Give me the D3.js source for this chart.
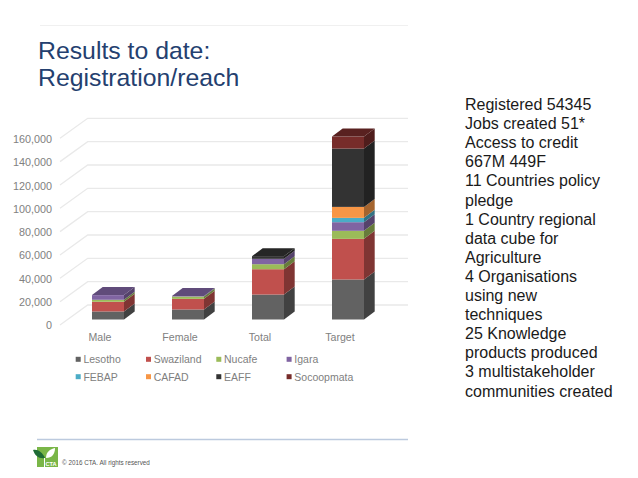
<!DOCTYPE html>
<html>
<head>
<meta charset="utf-8">
<script src="https://cdn.jsdelivr.net/npm/d3@7"></script>
<style>
  html, body { margin: 0; padding: 0; background: #fff; }
  svg { display: block; }
  text { font-family: "Liberation Sans", Arial, sans-serif; }
</style>
</head>
<body>
<svg id="slide" width="638" height="478"></svg>
<script>
var categories = ["Male", "Female", "Total", "Target"];
var seriesNames = ["Lesotho", "Swaziland", "Nucafe", "Igara", "FEBAP", "CAFAD", "EAFF", "Socoopmata"];
var lesotho = [6900, 8600, 21400, 34300];
var swaziland = [8300, 9100, 21700, 34800];
var nucafe = [1700, 2000, 4300, 6900];
var igara = [4000, 500, 4600, 7400];
var febap = [0, 0, 0, 3700];
var cafad = [0, 0, 0, 9400];
var eaff = [0, 0, 2300, 50000];
var socoopmata = [0, 0, 0, 10300];
var seriesValues = [lesotho, swaziland, nucafe, igara, febap, cafad, eaff, socoopmata];
var seriesColors = ["#626262", "#c0504d", "#9bbb59", "#8064a2", "#4bacc6", "#f79646", "#333333", "#772c2a"];
var yTicks = [0, 20000, 40000, 60000, 80000, 100000, 120000, 140000, 160000];
var titleLines = ["Results to date:", "Registration/reach"];
var notes = ["Registered 54345", "Jobs created 51*", "Access to credit", "667M 449F", "11 Countries policy", "pledge", "1 Country regional", "data cube for", "Agriculture", "4 Organisations", "using new", "techniques", "25 Knowledge", "products produced", "3 multistakeholder", "communities created"];

var svg = d3.select("#slide");

// rows for d3.stack
var rows = categories.map(function(c, i) {
  var row = { category: c };
  seriesNames.forEach(function(s, j) { row[s] = seriesValues[j][i]; });
  return row;
});
var stacked = d3.stack().keys(seriesNames)(rows);

var y = d3.scaleLinear().domain([0, 160000]).range([319.5, 132.8]);
var x = d3.scaleBand().domain(categories).range([68, 388]).paddingInner(0.6).paddingOuter(0.3);
var color = d3.scaleOrdinal().domain(seriesNames).range(seriesColors);

// 3d offsets
var wallDx = 27.7, wallDy = -14.5, wallFloorDy = 5.5;
var depthDx = 10.7, depthDy = -8;

// slide decoration
svg.append("line").attr("x1", 40).attr("x2", 408).attr("y1", 25.5).attr("y2", 25.5).attr("stroke", "#f0f0f0");
svg.append("line").attr("x1", 37).attr("x2", 408).attr("y1", 439.5).attr("y2", 439.5).attr("stroke", "#bccade").attr("stroke-width", 1.6);

svg.append("g").selectAll("text").data(titleLines).join("text")
  .attr("x", 38).attr("y", function(d, i) { return 58.5 + i * 27; })
  .attr("font-size", 24.8).attr("fill", "#24406f").text(function(d) { return d; });

// walls
var grid = svg.append("g");
grid.selectAll("path").data(yTicks).join("path")
  .attr("fill", "none").attr("stroke", "#e9e9e9").attr("stroke-width", 1.3)
  .attr("d", function(d) {
    var yy = y(d) + wallFloorDy;
    return "M60," + yy + "L" + (60 + wallDx) + "," + (yy + wallDy - wallFloorDy) + "L408," + (yy + wallDy - wallFloorDy);
  });

// y axis labels through d3.axisLeft
var axis = svg.append("g").attr("transform", "translate(52,0)")
  .call(d3.axisLeft(y.copy().range([325.2, 139])).tickValues(yTicks).tickSize(0).tickPadding(0).tickFormat(d3.format(",")));
axis.select(".domain").remove();
axis.selectAll("text").attr("font-size", 10.8).attr("fill", "#808080").attr("font-family", "Liberation Sans");

// bars
var bars = svg.append("g");
stacked.forEach(function(layer) {
  layer.forEach(function(d) {
    if (d[1] - d[0] <= 0) return;
    var cat = d.data.category, x0 = x(cat), w = x.bandwidth();
    var c = color(layer.key);
    var top = y(d[1]), bottom = y(d[0]);
    bars.append("rect").attr("x", x0).attr("y", top).attr("width", w).attr("height", bottom - top).attr("fill", c);
    bars.append("path")
      .attr("d", "M" + (x0 + w) + "," + bottom + "L" + (x0 + w + depthDx) + "," + (bottom + depthDy) +
        "L" + (x0 + w + depthDx) + "," + (top + depthDy) + "L" + (x0 + w) + "," + top + "Z")
      .attr("fill", d3.color(c).darker(1.15));
    var total = d3.sum(seriesNames, function(s) { return d.data[s]; });
    if (d[1] === total) {
      bars.append("path")
        .attr("d", "M" + x0 + "," + top + "L" + (x0 + depthDx) + "," + (top + depthDy) +
          "L" + (x0 + w + depthDx) + "," + (top + depthDy) + "L" + (x0 + w) + "," + top + "Z")
        .attr("fill", d3.color(c).darker(0.8));
    }
  });
});

// category labels
svg.append("g").selectAll("text").data(categories).join("text")
  .attr("x", function(d) { return x(d) + x.bandwidth() / 2 - 8; }).attr("y", 341)
  .attr("text-anchor", "middle").attr("font-size", 10.6).attr("fill", "#808080")
  .text(function(d) { return d; });

// legend
var legend = svg.append("g").selectAll("g").data(seriesNames).join("g")
  .attr("transform", function(d, i) { return "translate(" + (75.7 + (i % 4) * 70.3) + "," + (359.3 + Math.floor(i / 4) * 17.4) + ")"; });
legend.append("rect").attr("x", 0).attr("y", -2.5).attr("width", 5).attr("height", 5)
  .attr("fill", function(d) { return color(d); });
legend.append("text").attr("x", 7.7).attr("y", 3.8).attr("font-size", 10.5).attr("fill", "#808080")
  .text(function(d) { return d; });

// notes
svg.append("g").selectAll("text").data(notes).join("text")
  .attr("x", 465).attr("y", function(d, i) { return 110 + i * 19.1; })
  .attr("font-size", 16).attr("fill", "#1a1a1a").text(function(d) { return d; });

// logo
var logo = svg.append("g");
logo.append("rect").attr("x", 37).attr("y", 447).attr("width", 21).attr("height", 20).attr("fill", "#7ab648");
logo.append("path").attr("d", "M33,450 C38,449 42,452 45,458 C39,459 35,456 33,450Z").attr("fill", "#1f6b35");
logo.append("path").attr("d", "M46,458 C46,452 50,449 55,448 C55,454 52,458 46,458Z").attr("fill", "#ffffff");
logo.append("path").attr("d", "M44.5,458V467").attr("stroke", "#ffffff").attr("stroke-width", 1);
logo.append("text").attr("x", 45.5).attr("y", 465.5).attr("font-size", 5.6).attr("font-weight", "bold").attr("fill", "#fff").text("CTA");
svg.append("text").attr("x", 62).attr("y", 465).attr("font-size", 6.3).attr("fill", "#555555").text("© 2016 CTA. All rights reserved");
</script>
</body>
</html>
